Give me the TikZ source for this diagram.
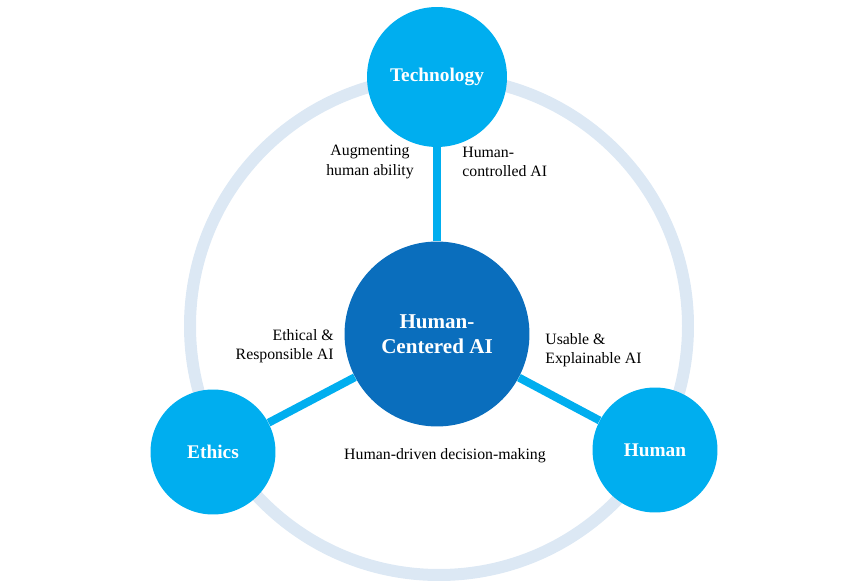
\documentclass[tikz,border=0pt]{standalone}
\usepackage{fontspec}
\setmainfont{Liberation Serif}
\definecolor{ringblue}{HTML}{DCE8F4}
\definecolor{lightblue}{HTML}{00AEEF}
\definecolor{darkblue}{HTML}{0A6EBD}
\begin{document}
\begin{tikzpicture}[
	x = 0.02cm,
	y = -0.02cm,
	hub/.style = {
		circle,
		fill = lightblue,
		text = white,
		font = \fontsize{11}{13}\selectfont\bfseries,
		align = center,
		inner sep = 0pt
	},
	link/.style = {
		line width = 0.16cm,
		draw = lightblue
	},
	note/.style = {
		font = \fontsize{9}{11}\selectfont,
		inner sep = 0pt
	}
	]
	\useasboundingbox (0,0) rectangle (850,588);
	\coordinate (O) at (439,326);
	\draw[ringblue, line width = 0.24cm] (O) circle (249);
	\node[hub, minimum size = 2.8cm] (tech) at (437,77) {Technology};
	\node[hub, minimum size = 2.5cm] (ethics) at (213,452) {Ethics};
	\node[hub, minimum size = 2.5cm] (human) at (655,450) {Human};
	\node[hub, fill = darkblue, minimum size = 3.7cm, font = \fontsize{12}{14}\selectfont\bfseries] (hcai) at (437,334) {Human-\\Centered AI};
	\draw[link] (hcai) -- (tech);
	\draw[link] (hcai) -- (ethics);
	\draw[link] (hcai) -- (human);
	\node[note, align = center] (aug) at (370,162) {Augmenting\\human ability};
	\node[note, align = left, anchor = west] (ctrl) at (462,162) {Human-\\controlled AI};
	\node[note, align = right, anchor = east] (eth) at (334,346) {Ethical \&\\Responsible AI};
	\node[note, align = left, anchor = west] (use) at (545,350) {Usable \&\\Explainable AI};
	\node[note] (dec) at (445,456) {Human-driven decision-making};
\end{tikzpicture}
\end{document}
